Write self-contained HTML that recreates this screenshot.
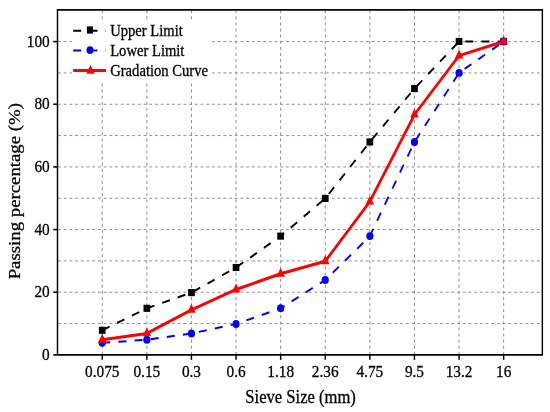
<!DOCTYPE html><html><head><meta charset="utf-8"><title>Gradation</title><style>html,body{margin:0;padding:0;background:#fff;overflow:hidden}svg{display:block}</style></head><body>
<svg width="550" height="412" viewBox="0 0 550 412">
<rect width="550" height="412" fill="#fff"/>
<g stroke="#8e8e8e" stroke-width="1" fill="none"><line x1="58.10" y1="323.57" x2="542.35" y2="323.57" stroke-dasharray="2.8 2.9"/><line x1="58.10" y1="292.24" x2="542.35" y2="292.24" stroke-dasharray="2.8 2.9"/><line x1="58.10" y1="260.91" x2="542.35" y2="260.91" stroke-dasharray="2.8 2.9"/><line x1="58.10" y1="229.58" x2="542.35" y2="229.58" stroke-dasharray="2.8 2.9"/><line x1="58.10" y1="198.25" x2="542.35" y2="198.25" stroke-dasharray="2.8 2.9"/><line x1="58.10" y1="166.92" x2="542.35" y2="166.92" stroke-dasharray="2.8 2.9"/><line x1="58.10" y1="135.59" x2="542.35" y2="135.59" stroke-dasharray="2.8 2.9"/><line x1="58.10" y1="104.26" x2="542.35" y2="104.26" stroke-dasharray="2.8 2.9"/><line x1="58.10" y1="72.93" x2="542.35" y2="72.93" stroke-dasharray="2.8 2.9"/><line x1="58.10" y1="41.60" x2="542.35" y2="41.60" stroke-dasharray="2.8 2.9"/><line x1="102.25" y1="354.85" x2="102.25" y2="9.85" stroke-dasharray="3 3.1"/><line x1="146.85" y1="354.85" x2="146.85" y2="9.85" stroke-dasharray="3 3.1"/><line x1="191.45" y1="354.85" x2="191.45" y2="9.85" stroke-dasharray="3 3.1"/><line x1="236.05" y1="354.85" x2="236.05" y2="9.85" stroke-dasharray="3 3.1"/><line x1="280.65" y1="354.85" x2="280.65" y2="9.85" stroke-dasharray="3 3.1"/><line x1="325.25" y1="354.85" x2="325.25" y2="9.85" stroke-dasharray="3 3.1"/><line x1="369.85" y1="354.85" x2="369.85" y2="9.85" stroke-dasharray="3 3.1"/><line x1="414.45" y1="354.85" x2="414.45" y2="9.85" stroke-dasharray="3 3.1"/><line x1="459.05" y1="354.85" x2="459.05" y2="9.85" stroke-dasharray="3 3.1"/><line x1="503.65" y1="354.85" x2="503.65" y2="9.85" stroke-dasharray="3 3.1"/></g>
<g stroke="#000" fill="none"><path d="M56.80,9.85H543.05M56.80,354.85H543.05" stroke-width="1.6"/><path d="M57.50,9.85V354.85M542.35,9.85V354.85" stroke-width="1.45"/></g>
<g stroke="#000" stroke-width="1.6"><line x1="53.30" y1="354.85" x2="57.50" y2="354.85"/><line x1="53.30" y1="292.24" x2="57.50" y2="292.24"/><line x1="53.30" y1="229.58" x2="57.50" y2="229.58"/><line x1="53.30" y1="166.92" x2="57.50" y2="166.92"/><line x1="53.30" y1="104.26" x2="57.50" y2="104.26"/><line x1="53.30" y1="41.60" x2="57.50" y2="41.60"/><line x1="102.25" y1="354.85" x2="102.25" y2="359.85" stroke-width="1.45"/><line x1="146.85" y1="354.85" x2="146.85" y2="359.85" stroke-width="1.45"/><line x1="191.45" y1="354.85" x2="191.45" y2="359.85" stroke-width="1.45"/><line x1="236.05" y1="354.85" x2="236.05" y2="359.85" stroke-width="1.45"/><line x1="280.65" y1="354.85" x2="280.65" y2="359.85" stroke-width="1.45"/><line x1="325.25" y1="354.85" x2="325.25" y2="359.85" stroke-width="1.45"/><line x1="369.85" y1="354.85" x2="369.85" y2="359.85" stroke-width="1.45"/><line x1="414.45" y1="354.85" x2="414.45" y2="359.85" stroke-width="1.45"/><line x1="459.05" y1="354.85" x2="459.05" y2="359.85" stroke-width="1.45"/><line x1="503.65" y1="354.85" x2="503.65" y2="359.85" stroke-width="1.45"/></g>
<g font-family="'Liberation Serif','Times New Roman',serif" font-size="17.6" fill="#000" stroke="#000" stroke-width="0.3"><text transform="translate(49.70,359.95) scale(0.87,1)" text-anchor="end">0</text><text transform="translate(49.70,297.34) scale(0.87,1)" text-anchor="end">20</text><text transform="translate(49.70,234.68) scale(0.87,1)" text-anchor="end">40</text><text transform="translate(49.70,172.02) scale(0.87,1)" text-anchor="end">60</text><text transform="translate(49.70,109.36) scale(0.87,1)" text-anchor="end">80</text><text transform="translate(49.70,46.70) scale(0.87,1)" text-anchor="end">100</text><text transform="translate(102.25,377.25) scale(0.87,1)" text-anchor="middle">0.075</text><text transform="translate(146.85,377.25) scale(0.87,1)" text-anchor="middle">0.15</text><text transform="translate(191.45,377.25) scale(0.87,1)" text-anchor="middle">0.3</text><text transform="translate(236.05,377.25) scale(0.87,1)" text-anchor="middle">0.6</text><text transform="translate(280.65,377.25) scale(0.87,1)" text-anchor="middle">1.18</text><text transform="translate(325.25,377.25) scale(0.87,1)" text-anchor="middle">2.36</text><text transform="translate(369.85,377.25) scale(0.87,1)" text-anchor="middle">4.75</text><text transform="translate(414.45,377.25) scale(0.87,1)" text-anchor="middle">9.5</text><text transform="translate(459.05,377.25) scale(0.87,1)" text-anchor="middle">13.2</text><text transform="translate(503.65,377.25) scale(0.87,1)" text-anchor="middle">16</text></g>
<text transform="translate(300.6,403.3) scale(0.842,1)" text-anchor="middle" font-family="'Liberation Serif','Times New Roman',serif" font-size="19.7" fill="#000" stroke="#000" stroke-width="0.3">Sieve Size (mm)</text>
<text transform="translate(20.3,191.2) rotate(-90) scale(1,0.87)" text-anchor="middle" font-family="'Liberation Serif','Times New Roman',serif" font-size="18.8" fill="#000" stroke="#000" stroke-width="0.3">Passing percentage (%)</text>
<polyline transform="scale(0.89,1)" points="114.888,330.29 165.000,308.31 215.112,292.62 265.225,267.51 315.337,236.12 365.449,198.45 415.562,141.95 465.674,88.58 515.787,41.50 565.899,41.50" fill="none" stroke="#000" stroke-width="2" stroke-dasharray="9 9.2"/>
<rect x="98.90" y="326.74" width="6.7" height="7.1" fill="#000"/><rect x="143.50" y="304.76" width="6.7" height="7.1" fill="#000"/><rect x="188.10" y="289.07" width="6.7" height="7.1" fill="#000"/><rect x="232.70" y="263.96" width="6.7" height="7.1" fill="#000"/><rect x="277.30" y="232.57" width="6.7" height="7.1" fill="#000"/><rect x="321.90" y="194.90" width="6.7" height="7.1" fill="#000"/><rect x="366.50" y="138.40" width="6.7" height="7.1" fill="#000"/><rect x="411.10" y="85.03" width="6.7" height="7.1" fill="#000"/><rect x="455.70" y="37.95" width="6.7" height="7.1" fill="#000"/><rect x="500.30" y="37.95" width="6.7" height="7.1" fill="#000"/>
<polyline transform="scale(0.89,1)" points="114.888,342.84 165.000,339.70 215.112,333.43 265.225,324.01 315.337,308.31 365.449,280.06 415.562,236.12 465.674,141.95 515.787,72.89 565.899,41.50" fill="none" stroke="#00f" stroke-width="2" stroke-dasharray="9 9.2"/>
<ellipse cx="102.25" cy="342.84" rx="3.6" ry="3.95" fill="#00f"/><ellipse cx="146.85" cy="339.70" rx="3.6" ry="3.95" fill="#00f"/><ellipse cx="191.45" cy="333.43" rx="3.6" ry="3.95" fill="#00f"/><ellipse cx="236.05" cy="324.01" rx="3.6" ry="3.95" fill="#00f"/><ellipse cx="280.65" cy="308.31" rx="3.6" ry="3.95" fill="#00f"/><ellipse cx="325.25" cy="280.06" rx="3.6" ry="3.95" fill="#00f"/><ellipse cx="369.85" cy="236.12" rx="3.6" ry="3.95" fill="#00f"/><ellipse cx="414.45" cy="141.95" rx="3.6" ry="3.95" fill="#00f"/><ellipse cx="459.05" cy="72.89" rx="3.6" ry="3.95" fill="#00f"/><ellipse cx="503.65" cy="41.50" rx="3.6" ry="3.95" fill="#00f"/>
<polyline transform="scale(0.89,1)" points="114.888,339.70 165.000,333.43 215.112,309.88 265.225,289.48 315.337,273.79 365.449,261.23 415.562,201.59 465.674,114.64 515.787,55.63 565.899,41.50" fill="none" stroke="#f00" stroke-width="3.0" stroke-linejoin="round"/>
<polygon points="102.25,333.84 97.95,342.64 106.55,342.64" fill="#f00"/><polygon points="146.85,327.56 142.55,336.36 151.15,336.36" fill="#f00"/><polygon points="191.45,304.02 187.15,312.82 195.75,312.82" fill="#f00"/><polygon points="236.05,283.61 231.75,292.41 240.35,292.41" fill="#f00"/><polygon points="280.65,267.92 276.35,276.72 284.95,276.72" fill="#f00"/><polygon points="325.25,255.36 320.95,264.16 329.55,264.16" fill="#f00"/><polygon points="369.85,195.72 365.55,204.52 374.15,204.52" fill="#f00"/><polygon points="414.45,108.77 410.15,117.57 418.75,117.57" fill="#f00"/><polygon points="459.05,49.76 454.75,58.56 463.35,58.56" fill="#f00"/><polygon points="503.65,35.63 499.35,44.43 507.95,44.43" fill="#f00"/>
<rect x="72" y="19.7" width="137" height="62" fill="#fff"/>
<line transform="scale(0.89,1)" x1="82.247" y1="30.85" x2="119.101" y2="30.85" stroke="#000" stroke-width="2" stroke-dasharray="9 9.2"/><rect x="86.90" y="26.40" width="6.0" height="7.2" fill="#000"/>
<line transform="scale(0.89,1)" x1="82.247" y1="50.4" x2="119.101" y2="50.4" stroke="#00f" stroke-width="2" stroke-dasharray="9 9.2"/><ellipse cx="90.00" cy="50.10" rx="3.5" ry="3.9" fill="#00f"/>
<line x1="73.2" y1="70.6" x2="106.0" y2="70.6" stroke="#f00" stroke-width="3"/><polygon points="90.50,65.07 86.20,73.67 94.80,73.67" fill="#f00"/>
<text transform="translate(110.2,35.80) scale(0.87,1)" font-family="'Liberation Serif','Times New Roman',serif" font-size="16.8" fill="#000" stroke="#000" stroke-width="0.3">Upper Limit</text>
<text transform="translate(110.2,55.90) scale(0.87,1)" font-family="'Liberation Serif','Times New Roman',serif" font-size="16.8" fill="#000" stroke="#000" stroke-width="0.3">Lower Limit</text>
<text transform="translate(110.2,76.00) scale(0.87,1)" font-family="'Liberation Serif','Times New Roman',serif" font-size="16.8" fill="#000" stroke="#000" stroke-width="0.3">Gradation Curve</text>
</svg></body></html>
